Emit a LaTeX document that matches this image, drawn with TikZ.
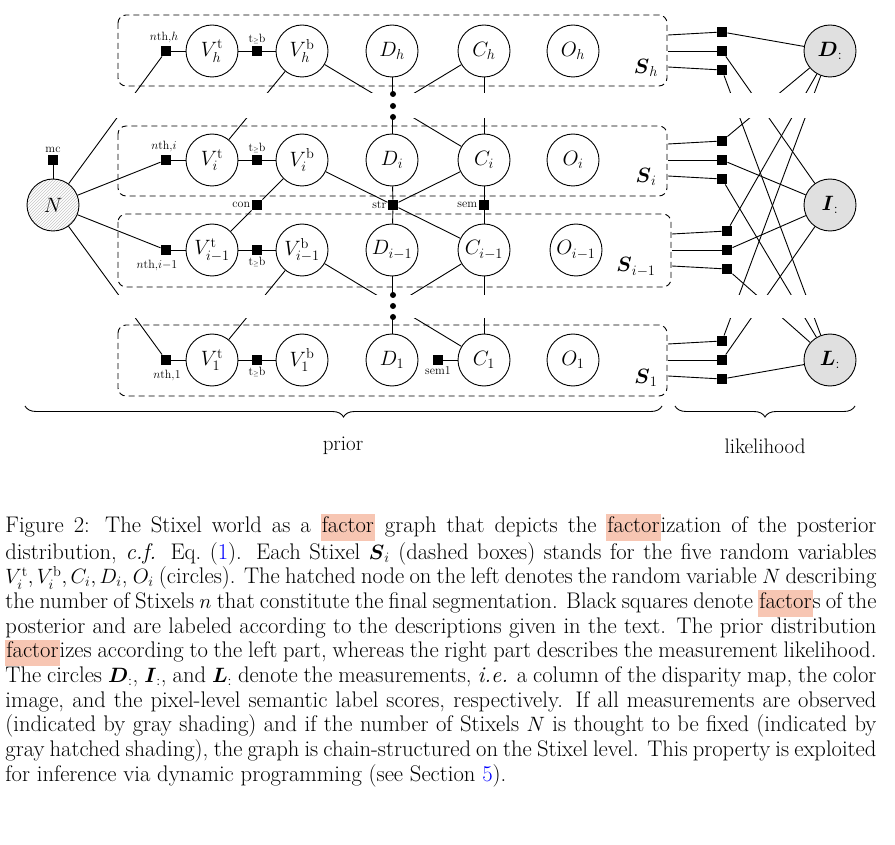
\documentclass[tikz,border=0pt]{standalone}
\usepackage{amsmath}
\usetikzlibrary{patterns,decorations.pathreplacing}
\definecolor{hlc}{HTML}{F7C6B3}
\definecolor{obs}{HTML}{E0E0E0}
\newcommand{\hlf}[1]{{\setlength{\fboxsep}{1pt}\colorbox{hlc}{\strut #1}}}
\begin{document}
\begin{tikzpicture}[x=1pt,y=-1pt,line width=0.9pt,
  var/.style={circle,draw,fill=white,minimum size=52pt,inner sep=0pt,font=\fontsize{22}{23}\selectfont},
  meas/.style={var,fill=obs},
  fac/.style={rectangle,fill=black,minimum size=10pt,inner sep=0pt},
  lab/.style={font=\fontsize{12}{13}\selectfont,inner sep=1pt},
  sbox/.style={draw,dash pattern=on 6pt off 4pt,rounded corners=8pt},
  slab/.style={font=\fontsize{22}{23}\selectfont},
  band/.style={fill=white,draw=none},
  dot/.style={circle,fill=black,minimum size=6pt,inner sep=0pt}]
\useasboundingbox (0,0) rectangle (895,845);
% boxes
\draw[sbox] (118,15) rectangle (667,86);
\draw[sbox] (118,126) rectangle (667,196);
\draw[sbox] (118,214) rectangle (671,287);
\draw[sbox] (118,325) rectangle (667,396);
\node[slab] at (646,68) {$\boldsymbol{S}_h$};
\node[slab] at (646,177) {$\boldsymbol{S}_i$};
\node[slab] at (636,267) {$\boldsymbol{S}_{i-1}$};
\node[slab] at (646,378) {$\boldsymbol{S}_1$};
% N
\node[var,pattern=north east lines,pattern color=gray!45] (N) at (53,205) {};
\node[font=\fontsize{22}{23}\selectfont] at (53,205) {$N$};
\node[fac] (mc) at (53,160) {};
\node[lab,above] at (mc.north) {mc};
% rows
\foreach \r/\y/\s/\ox in {h/51/h/573, i/160/i/573, m/250/{i-1}/576, o/360/1/573}{
  \node[var] (Vt\r) at (212,\y) {$V_{\s}^{\mathrm{t}}$};
  \node[var] (Vb\r) at (302,\y) {$V_{\s}^{\mathrm{b}}$};
  \node[var] (D\r) at (392,\y) {$D_{\s}$};
  \node[var] (C\r) at (484,\y) {$C_{\s}$};
  \node[var] (O\r) at (\ox,\y) {$O_{\s}$};
  \node[fac] (n\r) at (166,\y) {};
  \node[fac] (t\r) at (257,\y) {};
}
\node[lab] at (164,37) {$n$th,$h$};
\node[lab] at (164,146) {$n$th,$i$};
\node[lab] at (157,265) {$n$th,$i{-}1$};
\node[lab] at (167,375) {$n$th,1};
\foreach \r in {h,i}{\node[lab,above] at (t\r.north) {t$\scriptscriptstyle\geq$b};}
\foreach \r in {m,o}{\node[lab,below] at (t\r.south) {t$\scriptscriptstyle\geq$b};}
\node[fac] (con) at (257,205) {};
\node[lab,left] at (con.west) {con};
\node[fac] (str) at (393,205) {};
\node[lab,left] at (str.west) {str};
\node[fac] (sem) at (484,205) {};
\node[lab,left] at (sem.west) {sem};
\node[fac] (sem1) at (438,360) {};
\node[lab,below] at (sem1.south) {sem1};
% measurements
\node[meas] (MD) at (830,51) {$\boldsymbol{D}_{:}$};
\node[meas] (MI) at (830,205) {$\boldsymbol{I}_{:}$};
\node[meas] (ML) at (830,360) {$\boldsymbol{L}_{:}$};
% edges in rows
\foreach \r in {h,i,m,o}{
  \draw (n\r) -- (Vt\r) -- (t\r) -- (Vb\r);
  \draw (N) -- (n\r);
}
\draw (mc) -- (N);
\draw (Vbi) -- (con) -- (Vtm);
\draw (Vbi) -- (str) -- (Cm);
\draw (Ci) -- (str);
\draw (Di) -- (str) -- (Dm);
\draw (Ci) -- (sem) -- (Cm);
\draw (sem1) -- (Co);
% hidden continuations
\draw (Vbh) -- (Vti); \draw (Vbh) -- (Ci); \draw (Ch) -- (393,106);
\draw (Ch) -- (Ci); \draw (Dh) -- (Di);
\draw (Vbm) -- (Vto); \draw (Vbm) -- (Co); \draw (Cm) -- (393,306);
\draw (Cm) -- (Co); \draw (Dm) -- (Do);
% likelihood factors
\foreach \r/\y/\fx/\ex in {h/51/722/668, i/160/722/668, m/250/727/672, o/360/722/668}{
  \node[fac] (fa\r) at (\fx,\y-19) {};
  \node[fac] (fb\r) at (\fx,\y) {};
  \node[fac] (fc\r) at (\fx,\y+19) {};
  \draw (\ex,\y-16) -- (fa\r);
  \draw (\ex,\y) -- (fb\r);
  \draw (\ex,\y+16) -- (fc\r);
  \draw (fa\r) -- (MD);
  \draw (fb\r) -- (MI);
  \draw (fc\r) -- (ML);
}
% cut bands
\fill[band] (100,93) rectangle (880,118);
\fill[band] (100,295) rectangle (880,318);
\foreach \y in {94,106,117,295,306,317}{\node[dot] at (393,\y) {};}
% braces
\draw[decorate,decoration={brace,mirror,amplitude=11pt}] (25,406) -- (662,406);
\node[font=\fontsize{21}{22}\selectfont] at (343,446) {prior};
\draw[decorate,decoration={brace,mirror,amplitude=11pt}] (675,406) -- (855,406);
\node[font=\fontsize{21}{22}\selectfont] at (765,446) {likelihood};
% caption
\node[anchor=north west,inner sep=0pt,text width=871pt,align=justify,font=\fontsize{22.6}{24.7}\selectfont] at (5,514) {Figure 2: The Stixel world as a \hlf{factor} graph that depicts the \hlf{factor}ization of the posterior distribution, \textit{c.f.} Eq.~(\textcolor{blue}{1}). Each Stixel $\boldsymbol{S}_i$ (dashed boxes) stands for the five random variables $V_i^{\mathrm t}, V_i^{\mathrm b}, C_i, D_i$, $O_i$ (circles). The hatched node on the left denotes the random variable $N$ describing the number of Stixels $n$ that constitute the final segmentation. Black squares denote \hlf{factor}s of the posterior and are labeled according to the descriptions given in the text. The prior distribution \hlf{factor}izes according to the left part, whereas the right part describes the measurement likelihood. The circles $\boldsymbol{D}_:$, $\boldsymbol{I}_:$, and $\boldsymbol{L}_:$ denote the measurements, \textit{i.e.} a column of the disparity map, the color image, and the pixel-level semantic label scores, respectively. If all measurements are observed (indicated by gray shading) and if the number of Stixels $N$ is thought to be fixed (indicated by gray hatched shading), the graph is chain-structured on the Stixel level. This property is exploited for inference via dynamic programming (see Section~\textcolor{blue}{5}).};
\end{tikzpicture}
\end{document}
